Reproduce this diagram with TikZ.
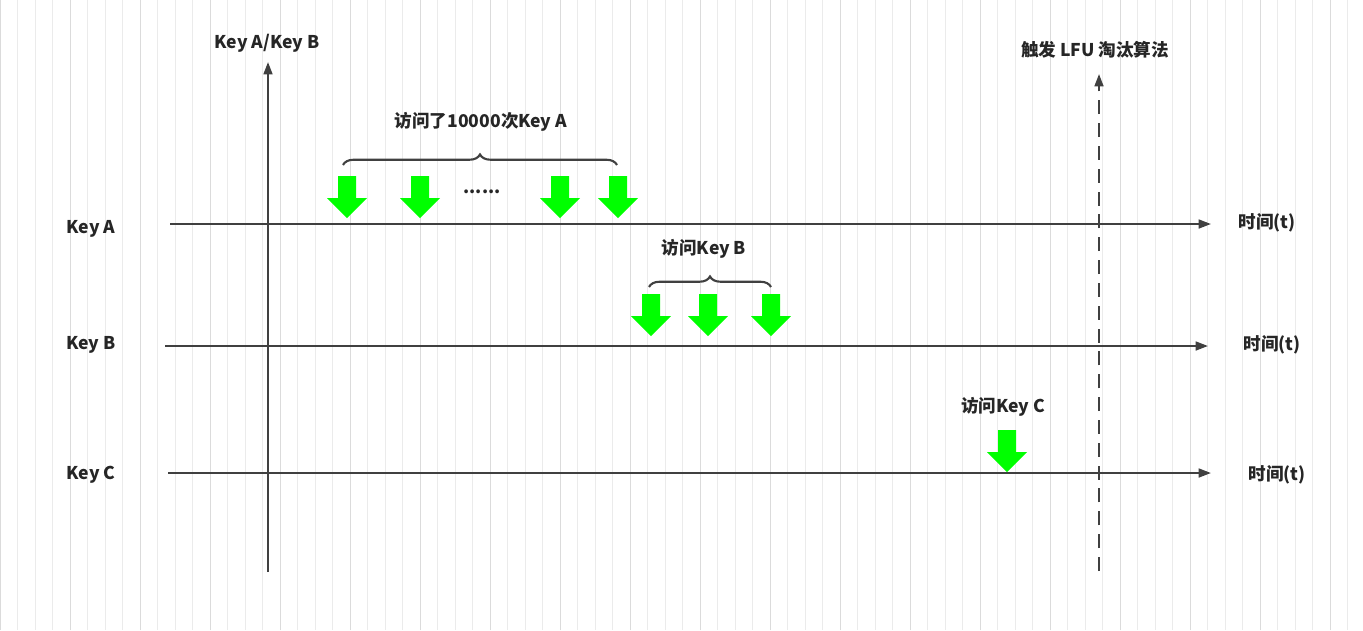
\documentclass[tikz,border=0pt]{standalone}
\usepackage{fontspec}
\setmainfont{Noto Sans CJK SC}
\usetikzlibrary{decorations.pathreplacing,arrows.meta}
\begin{document}
\begin{tikzpicture}[x=0.02cm,y=-0.02cm,
  lbl/.style={font=\bfseries\fontsize{10pt}{12pt}\selectfont, text=black!85},
  axis/.style={line width=1.2pt, black!75, -{Triangle[length=7pt,width=5pt]}},
  brc/.style={decorate, decoration={brace,amplitude=6pt}, line width=1.2pt, black!75},
  hit/.pic={\fill[green!90!black, fill={rgb,255:red,0;green,255;blue,0}] (-9,0)--(9,0)--(9,22)--(20,22)--(0,42)--(-20,22)--(-9,22)--cycle;}]
\useasboundingbox (0,0) rectangle (1363,630);
\fill[white] (0,0) rectangle (1363,630);
\draw[black!8, line width=0.4pt] (0,0) grid[step=17.5] (1363,630);
\draw[black!14, line width=0.5pt] (0,0) grid[step=70] (1363,630);
% axes
\coordinate (v0) at (268,572); \coordinate (v1) at (268,62);
\draw[axis] (v0) -- (v1);
\node[lbl] (lv) at (267,43) {Key A/Key B};
\coordinate (d0) at (1099,571); \coordinate (d1) at (1099,74);
\draw[axis, dash pattern=on 8pt off 5pt] (d0) -- (d1);
\node[lbl] (ld) at (1095,50) {触发 LFU 淘汰算法};
% time lines
\coordinate (a0) at (170,224); \coordinate (a1) at (1211,224);
\coordinate (b0) at (165,346); \coordinate (b1) at (1208,346);
\coordinate (c0) at (168,473); \coordinate (c1) at (1211,473);
\draw[axis] (a0) -- (a1); \draw[axis] (b0) -- (b1); \draw[axis] (c0) -- (c1);
\node[lbl] (ka) at (91,229) {Key A};
\node[lbl] (kb) at (91,345) {Key B};
\node[lbl] (kc) at (91,475) {Key C};
\node[lbl] (ta) at (1267,223) {时间(t)};
\node[lbl] (tb) at (1272,345) {时间(t)};
\node[lbl] (tc) at (1277,475) {时间(t)};
% hits
\foreach \x in {347,420,560,618} \pic at (\x,176) {hit};
\node[lbl] (dots) at (482,192) {......};
\draw[brc] (343,165) -- (617,165);
\node[lbl] (la) at (481,122) {访问了10000次Key A};
\foreach \x in {651,708,771} \pic at (\x,294) {hit};
\draw[brc] (649,287) -- (771,287);
\node[lbl] (lb) at (704,249) {访问Key B};
\pic at (1007,430) {hit};
\node[lbl] (lc) at (1003,407) {访问Key C};
\end{tikzpicture}
\end{document}
